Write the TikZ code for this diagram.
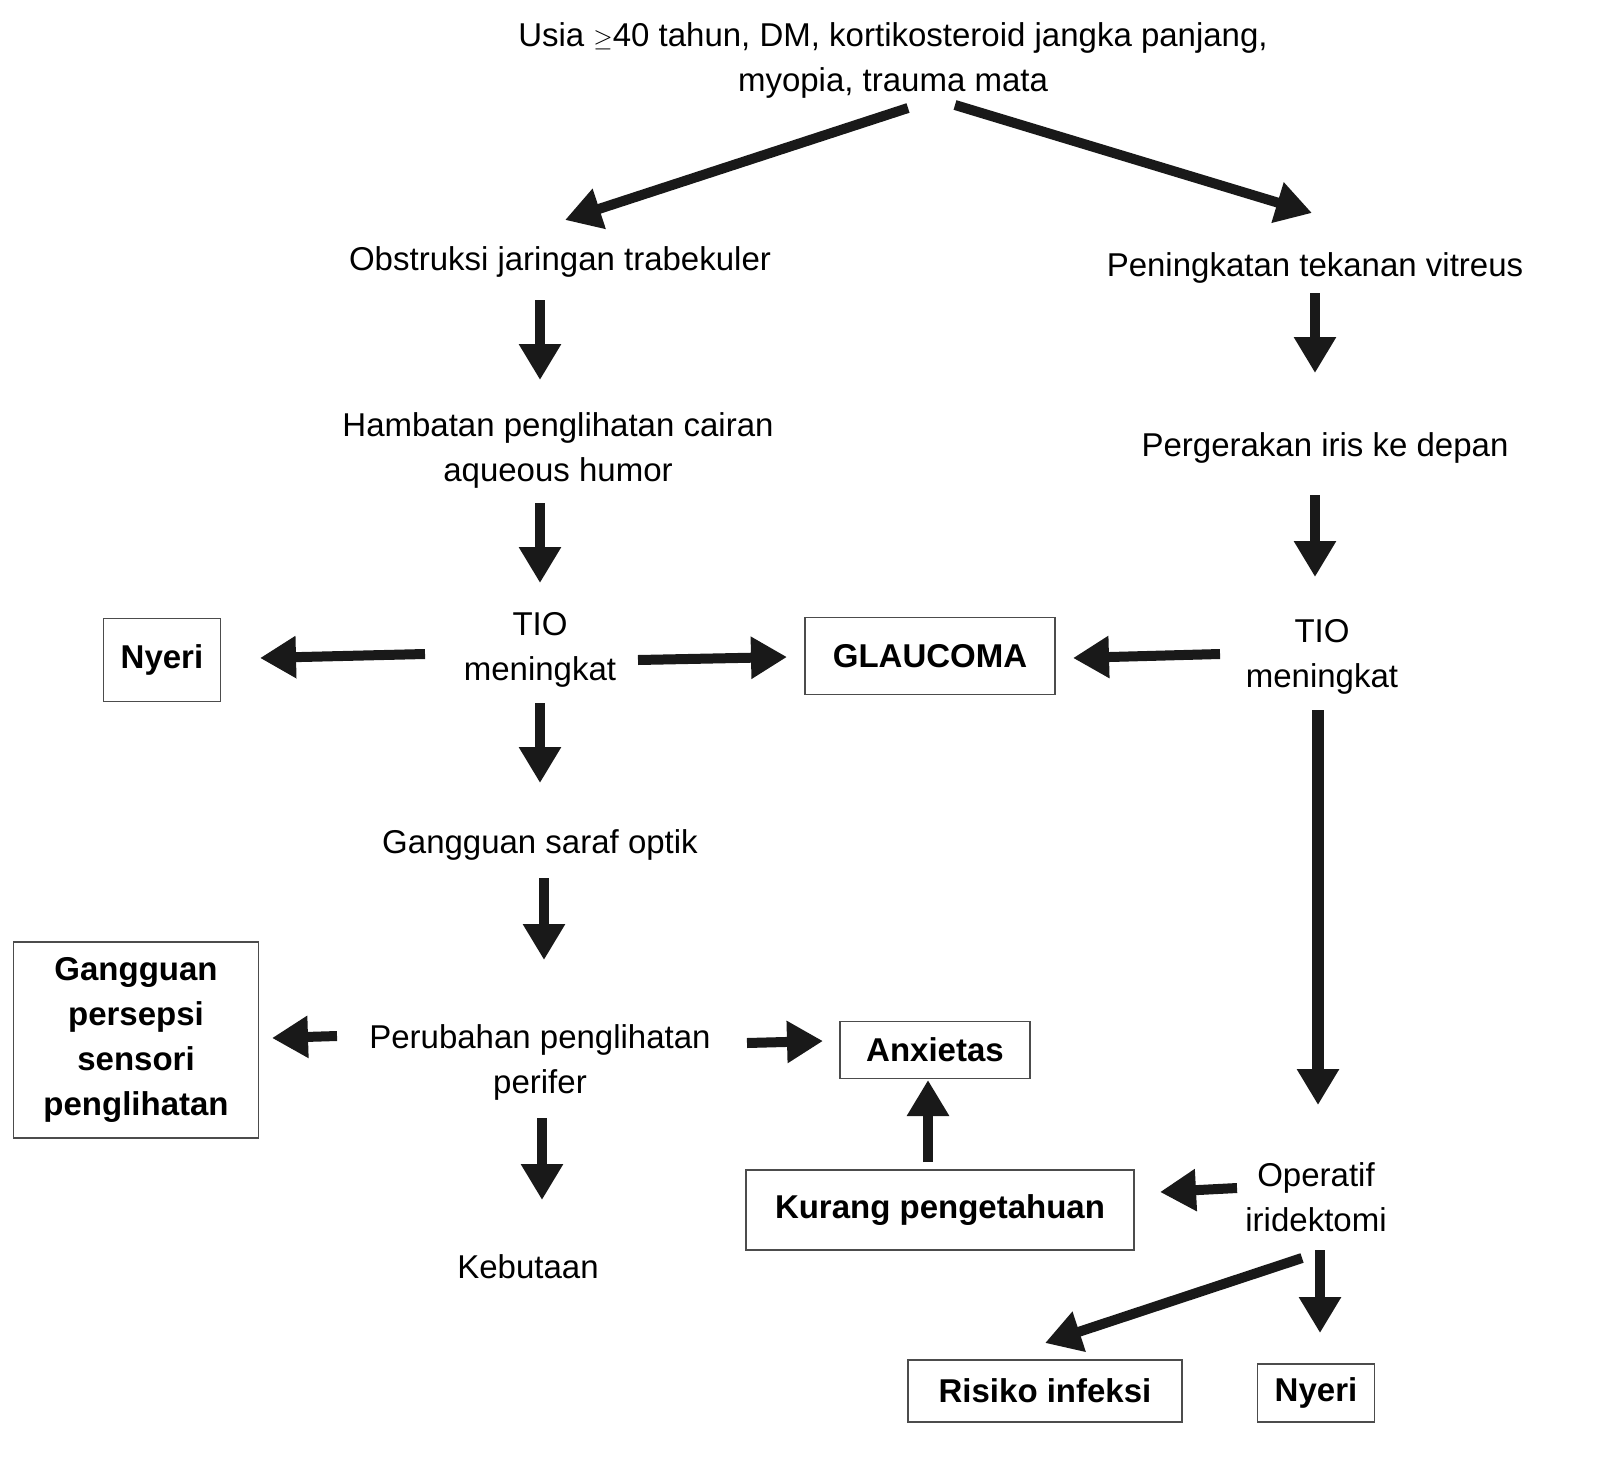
\documentclass[tikz,border=0pt]{standalone}
\usepackage{fontspec}
\setmainfont{Liberation Sans}
\usetikzlibrary{arrows.meta}
\begin{document}
\begin{tikzpicture}[x=1pt,y=-1pt,
  txt/.style={align=center,font=\fontsize{33}{45}\selectfont,inner sep=0pt},
  box/.style={draw=black!70,line width=1.5pt,align=center,font=\fontsize{33}{45}\selectfont\bfseries,inner sep=0pt},
  arr/.style={line width=10pt,draw=black!90,-{Triangle[width=40pt,length=36pt]}}]
\useasboundingbox (0,0) rectangle (1600,1464);
\node[txt] (top) at (893,60) {Usia $\geq$40 tahun, DM, kortikosteroid jangka panjang,\\myopia, trauma mata};
\node[txt] (obs) at (560,262) {Obstruksi jaringan trabekuler};
\node[txt] (pen) at (1315,268) {Peningkatan tekanan vitreus};
\node[txt] (ham) at (558,450) {Hambatan penglihatan cairan\\aqueous humor};
\node[txt] (perg) at (1325,448) {Pergerakan iris ke depan};
\node[txt] (tio1) at (540,650) {TIO\\meningkat};
\node[txt] (tio2) at (1322,657) {TIO\\meningkat};
\node[box,minimum width=117pt,minimum height=83pt] (ny1) at (162,660) {Nyeri};
\node[box,minimum width=250pt,minimum height=77pt] (gl) at (930,656) {GLAUCOMA};
\node[txt] (gang) at (540,845) {Gangguan saraf optik};
\node[box,minimum width=245pt,minimum height=196pt] (gps) at (136,1040) {Gangguan\\persepsi\\sensori\\penglihatan};
\node[txt] (per) at (540,1062) {Perubahan penglihatan\\perifer};
\node[box,minimum width=190pt,minimum height=57pt] (anx) at (935,1050) {Anxietas};
\node[txt] (keb) at (528,1267) {Kebutaan};
\node[box,minimum width=388pt,minimum height=80pt] (kur) at (940,1210) {Kurang pengetahuan};
\node[txt] (op) at (1316,1197) {Operatif\\iridektomi};
\node[box,minimum width=274pt,minimum height=62pt] (ris) at (1045,1391) {Risiko infeksi};
\node[box,minimum width=117pt,minimum height=58pt] (ny2) at (1316,1393) {Nyeri};
\draw[arr] (908,108) -- (565,220);
\draw[arr] (955,105) -- (1312,213);
\draw[arr] (540,300) -- (540,380);
\draw[arr] (1315,293) -- (1315,373);
\draw[arr] (540,503) -- (540,583);
\draw[arr] (1315,495) -- (1315,577);
\draw[arr] (425,654) -- (260,658);
\draw[arr] (638,660) -- (787,657);
\draw[arr] (1220,654) -- (1073,658);
\draw[arr] (540,703) -- (540,783);
\draw[arr,line width=12pt] (1318,710) -- (1318,1105);
\draw[arr] (544,878) -- (544,960);
\draw[arr] (337,1036) -- (272,1038);
\draw[arr] (747,1043) -- (823,1041);
\draw[arr] (542,1118) -- (542,1200);
\draw[arr] (928,1162) -- (928,1080);
\draw[arr] (1237,1188) -- (1160,1192);
\draw[arr] (1320,1250) -- (1320,1333);
\draw[arr] (1302,1258) -- (1045,1343);
\end{tikzpicture}
\end{document}
